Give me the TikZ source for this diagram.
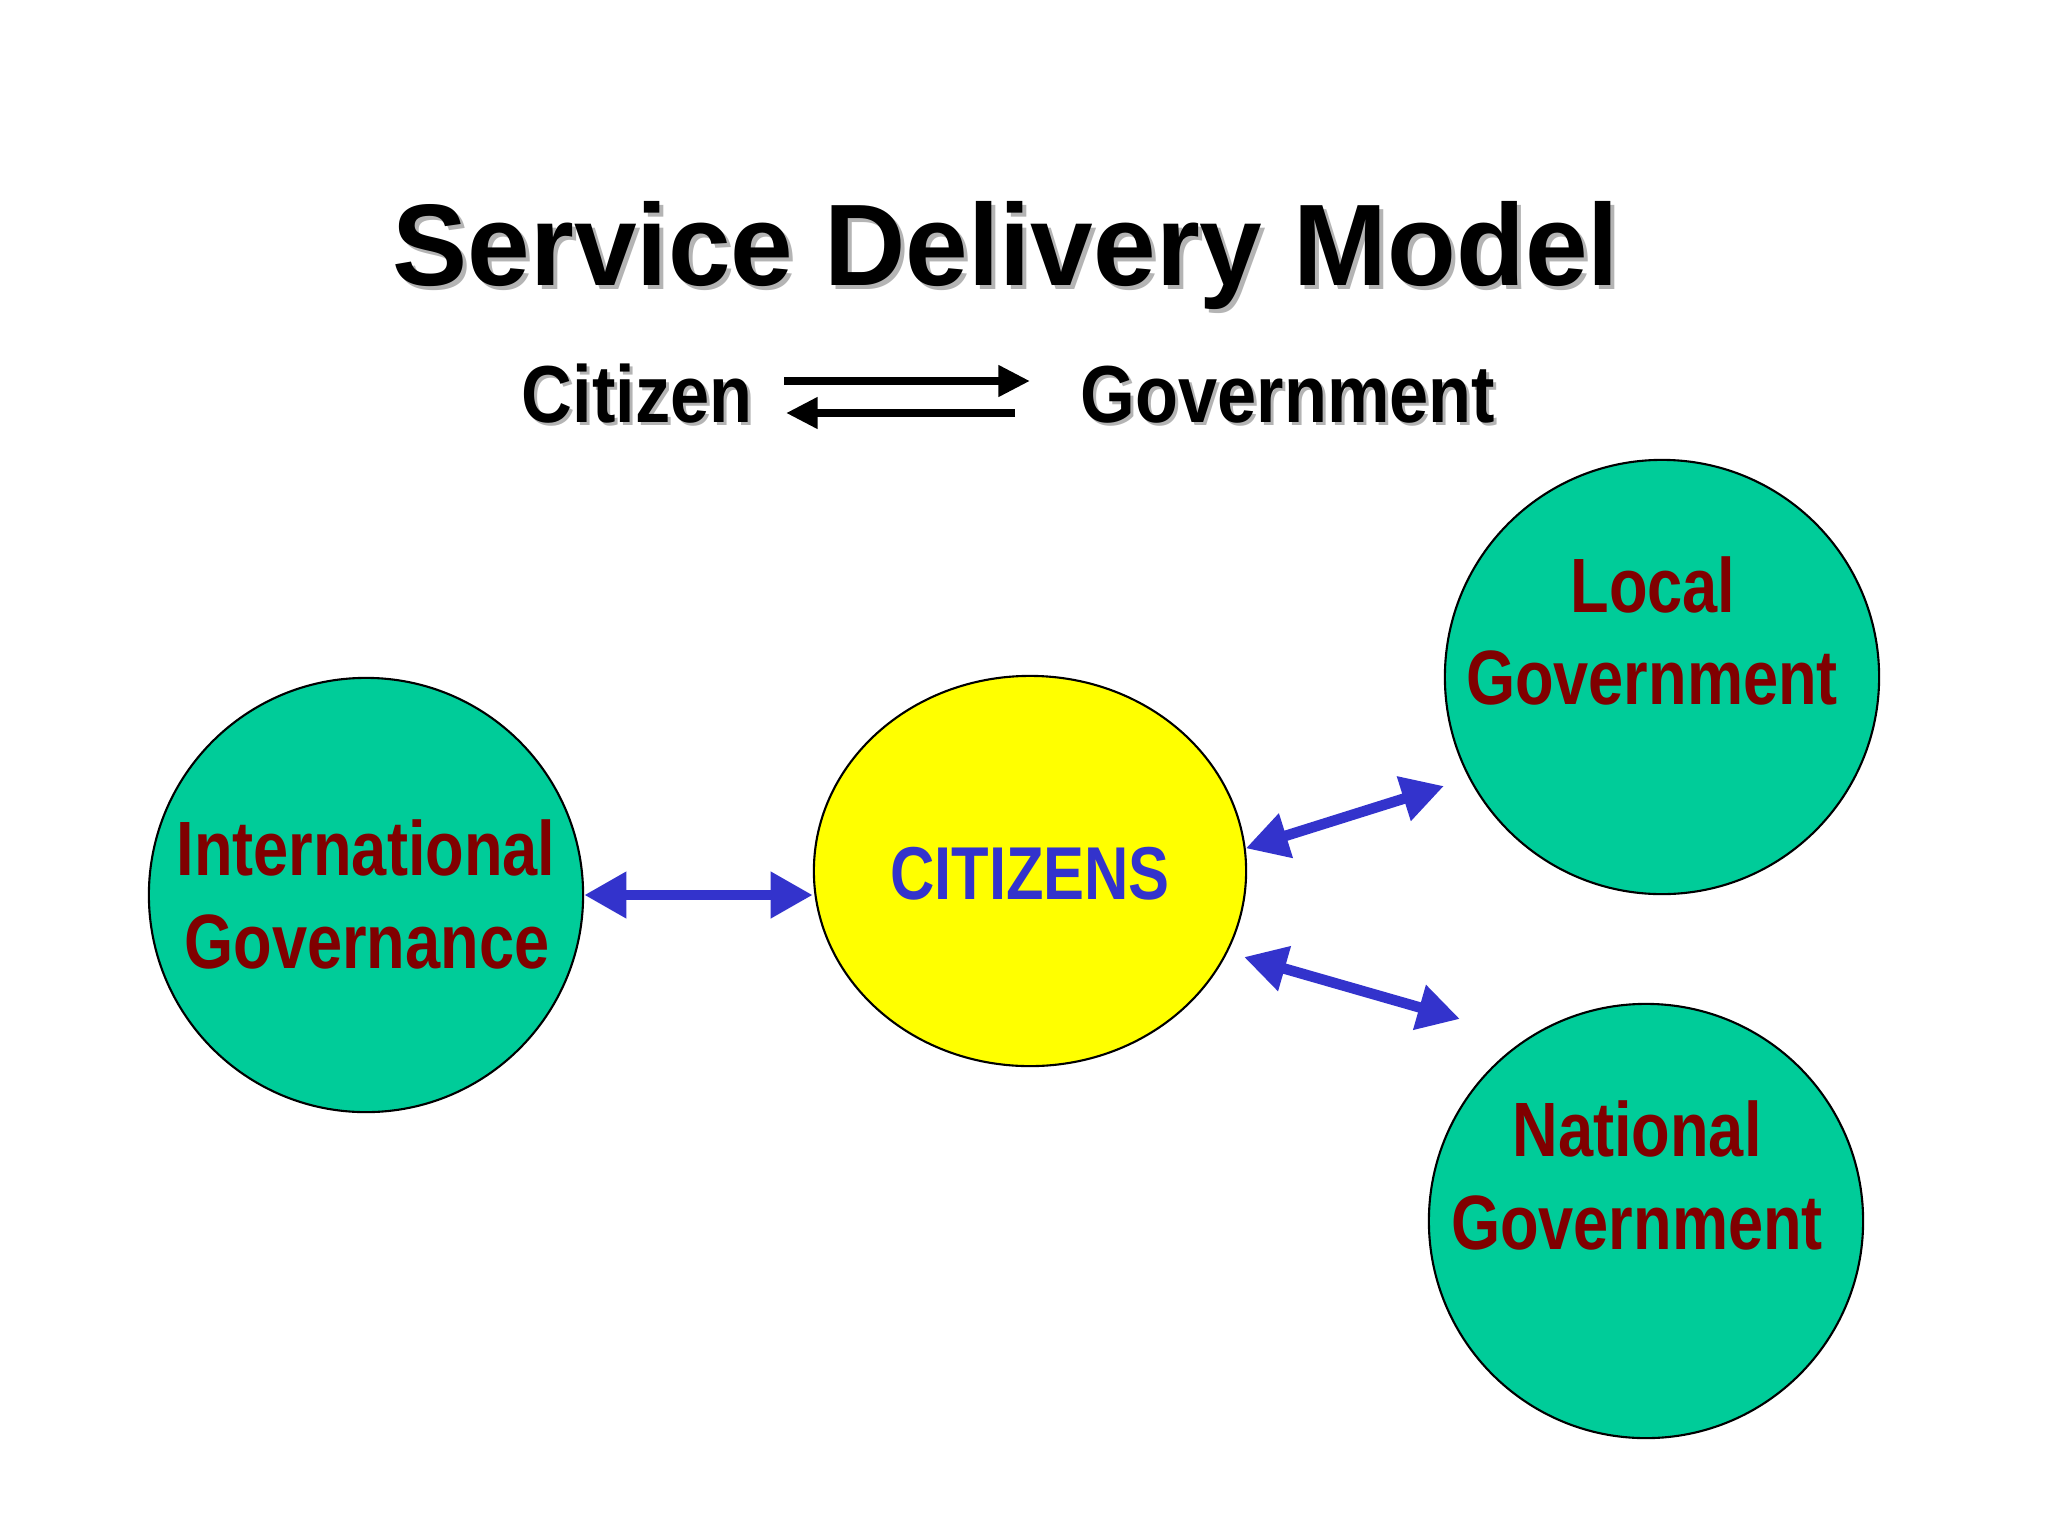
\documentclass[tikz,border=0pt]{standalone}
\usepackage{fontspec}
\setmainfont{Liberation Sans}
\newfontfamily\titlefont{Liberation Sans}[FakeStretch=0.97]
\newfontfamily\subfont{Liberation Sans}[FakeStretch=0.87]
\newfontfamily\narrowfont{Liberation Sans}[FakeStretch=0.82]
\usetikzlibrary{arrows.meta,shapes.geometric}
\definecolor{circgreen}{HTML}{00CC99}
\definecolor{cityellow}{HTML}{FFFF00}
\definecolor{txtred}{HTML}{800000}
\definecolor{arrblue}{HTML}{3333CC}
\definecolor{shadowgray}{HTML}{B4B4B4}
\begin{document}
\begin{tikzpicture}[x=0.01cm,y=-0.01cm,
  govcirc/.style={circle,draw=black,line width=0.6pt,fill=circgreen,minimum size=4.34cm,inner sep=0pt},
  citell/.style={ellipse,draw=black,line width=0.6pt,fill=cityellow,minimum width=4.32cm,minimum height=3.90cm,inner sep=0pt},
  circtxt/.style={anchor=base,inner sep=0pt,text=txtred,font=\narrowfont\bfseries\fontsize{21.9}{26}\selectfont},
  cittxt/.style={anchor=base,inner sep=0pt,text=arrblue,font=\narrowfont\bfseries\fontsize{21.3}{26}\selectfont},
  titletxt/.style={anchor=base,inner sep=0pt,font=\titlefont\bfseries\fontsize{33}{40}\selectfont},
  subtxt/.style={anchor=base,inner sep=0pt,font=\subfont\bfseries\fontsize{23}{28}\selectfont},
  biarrow/.style={draw=arrblue,line width=3pt,{Triangle[length=12pt,width=12.5pt]}-{Triangle[length=12pt,width=12.5pt]}},
  blkarrow/.style={draw=black,line width=2.2pt,-{Triangle[length=9pt,width=8.5pt]}}
]
\fill[white] (0,0) rectangle (2048,1536);
\useasboundingbox (0,0) rectangle (2048,1536);

% title with shadow
\node[titletxt,text=shadowgray] (titleS) at (1010,289) {Service Delivery Model};
\node[titletxt] (title) at (1006,285) {Service Delivery Model};

% subtitle
\node[subtxt,text=shadowgray] (citS) at (640,425) {Citizen};
\node[subtxt] (citizen) at (637,422) {Citizen};
\node[subtxt,text=shadowgray] (govS) at (1291,425) {Government};
\node[subtxt] (government) at (1288,422) {Government};
\coordinate (a1s) at (784,381);
\coordinate (a1e) at (1030,381);
\coordinate (a2s) at (1015,413);
\coordinate (a2e) at (786,413);
\draw[blkarrow] (a1s) -- (a1e);
\draw[blkarrow] (a2s) -- (a2e);

% nodes
\node[govcirc] (intl) at (366,895) {};
\node[citell] (cit) at (1030,871) {};
\node[govcirc] (loc) at (1662,677) {};
\node[govcirc] (nat) at (1646,1221) {};

% texts
\node[circtxt] (intl1) at (366,875) {International};
\node[circtxt] (intl2) at (367,968) {Governance};
\node[cittxt] (citt) at (1030,899) {CITIZENS};
\node[circtxt] (loc1) at (1653,612) {Local};
\node[circtxt] (loc2) at (1652,704) {Government};
\node[circtxt] (nat1) at (1637,1156) {National};
\node[circtxt] (nat2) at (1637,1249) {Government};

% connectors
\coordinate (locEnd) at (1444,786);
\coordinate (citLow) at (1244,957);
\coordinate (natEnd) at (1460,1019);
\draw[biarrow] (intl.east) -- (intl.east -| cit.west);
\draw[biarrow] (cit.6) -- (locEnd);
\draw[biarrow] (citLow) -- (natEnd);
\end{tikzpicture}
\end{document}
